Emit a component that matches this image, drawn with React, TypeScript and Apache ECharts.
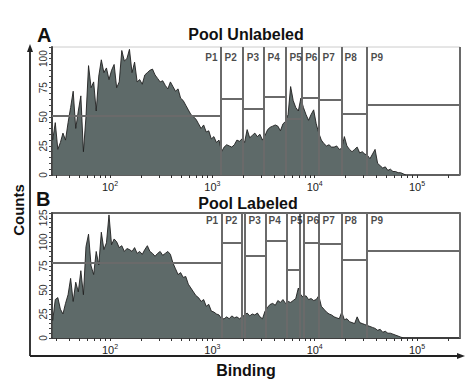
import React, { useEffect, useRef } from 'react';
import * as echarts from 'echarts';

// Histogram binning on log10(Binding)
const BIN_START = 1.44;
const BIN_STEP = 0.025;

// Counts per bin, panel A (Pool Unlabeled)
const COUNTS_A = [
  30, 45, 22, 28, 36, 30, 45, 58, 72, 40,
  55, 68, 20, 50, 94, 75, 80, 55, 85, 99,
  88, 92, 82, 90, 95, 75, 80, 107, 98, 100,
  108, 88, 97, 80, 82, 78, 86, 88, 90, 91,
  86, 83, 80, 81, 77, 74, 80, 76, 72, 74,
  66, 64, 60, 56, 52, 50, 48, 44, 40, 43,
  37, 38, 31, 33, 28, 30, 20,
  24, 26, 25, 24, 26, 30, 29, 31, 28, 39,
  32, 34, 36, 33, 35, 30, 34, 39, 41, 42,
  43, 42, 38, 44, 46, 52, 76, 64, 58, 55,
  66, 58, 52, 47, 52, 56, 44, 36, 30, 27,
  25, 26, 24, 24, 25, 22, 23, 33, 25, 22,
  20, 22, 24, 19, 20, 18, 17, 14, 18, 22,
  10, 8, 6, 7, 4, 5, 3, 3, 2, 2, 1, 0,
];

// Counts per bin, panel B (Pool Labeled)
const COUNTS_B = [
  18, 40, 42, 30, 25, 36, 45, 62, 38, 58,
  48, 70, 45, 95, 108, 75, 66, 90, 76, 110,
  92, 99, 128, 97, 103, 100, 94, 96, 90, 93,
  92, 90, 94, 88, 90, 87, 92, 96, 90, 88,
  85, 88, 90, 86, 88, 90, 87, 78, 72, 66,
  68, 63, 64, 56, 52, 48, 44, 42, 38, 40,
  33, 35, 28, 27, 25, 24, 20,
  20, 22, 20, 23, 21, 22, 20, 22, 24, 26,
  23, 25, 24, 26, 22, 20, 28, 32, 35, 36,
  34, 39, 37, 40, 36, 38, 37, 39, 41, 52,
  45, 42, 44, 40, 41, 39, 40, 44, 33, 30,
  27, 25, 24, 22, 21, 20, 27, 19, 20, 17,
  16, 15, 22, 16, 15, 14, 13, 12, 11, 10,
  8, 9, 6, 7, 5, 5, 4, 3, 2, 1, 0,
];

const GATE_NAMES = ['P1', 'P2', 'P3', 'P4', 'P5', 'P6', 'P7', 'P8', 'P9'];

// Gate bounds in log10(Binding) and the gate bar level (counts)
const GATES_A_LEFT = [1.433, 3.085, 3.303, 3.505, 3.72, 3.873, 4.042, 4.257, 4.514];
const GATES_A_RIGHT = [3.085, 3.303, 3.505, 3.72, 3.873, 4.042, 4.257, 4.514, 5.42];
const GATES_A_LEVEL = [51, 65.5, 57, 67.5, 48, 66, 65, 53, 60];

const GATES_B_LEFT = [1.433, 3.091, 3.319, 3.515, 3.727, 3.889, 4.042, 4.257, 4.514];
const GATES_B_RIGHT = [3.091, 3.287, 3.515, 3.727, 3.851, 4.042, 4.257, 4.514, 5.42];
const GATES_B_LEVEL = [78, 99, 85.5, 101, 71, 99, 98, 81.5, 91];

const X_MIN = 1.433;
const X_MAX = 5.42;
const DECADES = [2, 3, 4, 5];
const Y_LABELS_A = [0, 25, 50, 75, 100];
const Y_LABELS_B = [0, 25, 50, 75, 100, 125];
const Y_MAX_A = 110;
const Y_MAX_B = 130;

const FONT = '"Liberation Sans", Arial, sans-serif';

function minorXTicks(): number[] {
  const out: number[] = [];
  for (let n = 1; n <= 5; n++) {
    for (let k = 1; k <= 9; k++) {
      const v = Math.log10(k * Math.pow(10, n));
      if (v >= X_MIN && v <= X_MAX) out.push(v);
    }
  }
  return out;
}

function yTicks(max: number): number[] {
  const out: number[] = [];
  for (let v = 0; v <= max; v += 5) out.push(v);
  return out;
}

function histData(counts: number[]) {
  return counts.map((c, i) => [BIN_START + i * BIN_STEP, c]);
}

function buildPanel(
  idx: number,
  counts: number[],
  lefts: number[],
  rights: number[],
  levels: number[],
  labelY: number
) {
  const markData: any[] = [];
  lefts.forEach((l, i) => {
    if (l > X_MIN + 0.01) markData.push({ xAxis: l });
    markData.push({ xAxis: rights[i] });
    markData.push([
      { coord: [l, levels[i]] },
      { coord: [rights[i], levels[i]] },
    ]);
  });
  const labelData = GATE_NAMES.map((name, i) =>
    i === 0
      ? { name, value: [rights[i], labelY], label: { position: 'left', distance: 3 } }
      : { name, value: [lefts[i], labelY], label: { position: 'right', distance: 3 } }
  );
  return [
    {
      type: 'line',
      xAxisIndex: idx,
      yAxisIndex: idx,
      data: histData(counts),
      showSymbol: false,
      symbol: 'none',
      lineStyle: { color: '#202020', width: 0.9 },
      areaStyle: { color: '#5e6a69', opacity: 1 },
      z: 2,
      markLine: {
        silent: true,
        symbol: ['none', 'none'],
        label: { show: false },
        lineStyle: { color: '#6a6a6a', width: 2, type: 'solid' },
        data: markData,
        z: 3,
      },
    },
    {
      type: 'scatter',
      xAxisIndex: idx,
      yAxisIndex: idx,
      symbolSize: 1,
      itemStyle: { color: 'rgba(0,0,0,0)' },
      data: labelData,
      z: 5,
      label: {
        show: true,
        formatter: (p: any) => p.name,
        fontFamily: FONT,
        fontWeight: 'bold',
        fontSize: 10,
        color: '#1a1a1a',
      },
    },
  ];
}

function xAxis(idx: number) {
  return {
    type: 'value',
    gridIndex: idx,
    min: X_MIN,
    max: X_MAX,
    axisLine: { show: true, lineStyle: { color: '#333', width: 1.5 } },
    axisTick: {
      show: true,
      customValues: minorXTicks(),
      length: 3,
      lineStyle: { color: '#333', width: 1 },
    },
    splitLine: { show: false },
    axisLabel: {
      customValues: DECADES,
      margin: 5,
      formatter: (v: number) => `{m|10}{e|${Math.round(v)}}`,
      rich: {
        m: { fontFamily: FONT, fontSize: 11, color: '#222' },
        e: { fontFamily: FONT, fontSize: 7, color: '#222', verticalAlign: 'top', padding: [0, 0, 6, 0] },
      },
    },
  };
}

function yAxis(idx: number, max: number, labels: number[]) {
  return {
    type: 'value',
    gridIndex: idx,
    min: 0,
    max,
    axisLine: { show: true, lineStyle: { color: '#444', width: 2 } },
    axisTick: {
      show: true,
      customValues: yTicks(max),
      length: 3,
      lineStyle: { color: '#444', width: 1 },
    },
    splitLine: { show: false },
    axisLabel: {
      customValues: labels,
      rotate: 90,
      margin: 4,
      fontFamily: FONT,
      fontSize: 10,
      color: '#333',
    },
  };
}

export default function App() {
  const ref = useRef<HTMLDivElement>(null);
  useEffect(() => {
    if (!ref.current) return;
    const chart = echarts.init(ref.current, undefined, { renderer: 'svg' });
    const option: any = {
      animation: false,
      backgroundColor: '#ffffff',
      grid: [
        { left: 52, top: 47, width: 408, height: 128, show: true, borderColor: '#cccccc', borderWidth: 1, backgroundColor: 'transparent' },
        { left: 52, top: 213, width: 408, height: 125, show: true, borderColor: '#333333', borderWidth: 1.5, backgroundColor: 'transparent' },
      ],
      xAxis: [xAxis(0), xAxis(1)],
      yAxis: [yAxis(0, Y_MAX_A, Y_LABELS_A), yAxis(1, Y_MAX_B, Y_LABELS_B)],
      series: [
        ...buildPanel(0, COUNTS_A, GATES_A_LEFT, GATES_A_RIGHT, GATES_A_LEVEL, 101),
        ...buildPanel(1, COUNTS_B, GATES_B_LEFT, GATES_B_RIGHT, GATES_B_LEVEL, 122),
      ],
      graphic: [
        { type: 'text', left: 37, top: 25, style: { text: 'A', fontFamily: FONT, fontWeight: 'bold', fontSize: 20, fill: '#111' } },
        { type: 'text', left: 36, top: 189, style: { text: 'B', fontFamily: FONT, fontWeight: 'bold', fontSize: 20, fill: '#111' } },
        { type: 'text', x: 246, y: 34.5, style: { text: 'Pool Unlabeled', fontFamily: FONT, fontWeight: 'bold', fontSize: 16, fill: '#111', textAlign: 'center', textVerticalAlign: 'middle' } },
        { type: 'text', x: 248, y: 203.5, style: { text: 'Pool Labeled', fontFamily: FONT, fontWeight: 'bold', fontSize: 16, fill: '#111', textAlign: 'center', textVerticalAlign: 'middle' } },
        { type: 'text', x: 246, y: 370, style: { text: 'Binding', fontFamily: FONT, fontWeight: 'bold', fontSize: 16, fill: '#111', textAlign: 'center', textVerticalAlign: 'middle' } },
        { type: 'text', x: 18, y: 210, rotation: Math.PI / 2, style: { text: 'Counts', fontFamily: FONT, fontWeight: 'bold', fontSize: 15, fill: '#111', textAlign: 'center', textVerticalAlign: 'middle' } },
        { type: 'line', shape: { x1: 30, y1: 356, x2: 30, y2: 50 }, style: { stroke: '#222', lineWidth: 1.8 } },
        { type: 'polygon', shape: { points: [[30, 44], [27, 52], [33, 52]] }, style: { fill: '#222' } },
        { type: 'line', shape: { x1: 30, y1: 356, x2: 458, y2: 356 }, style: { stroke: '#222', lineWidth: 1.8 } },
        { type: 'polygon', shape: { points: [[465, 356], [457, 353], [457, 359]] }, style: { fill: '#222' } },
      ],
    };
    chart.setOption(option);
    return () => chart.dispose();
  }, []);
  return (
    <div
      ref={ref}
      style={{ position: 'fixed', left: 0, top: 0, width: 474, height: 392, background: '#fff' }}
    />
  );
}
